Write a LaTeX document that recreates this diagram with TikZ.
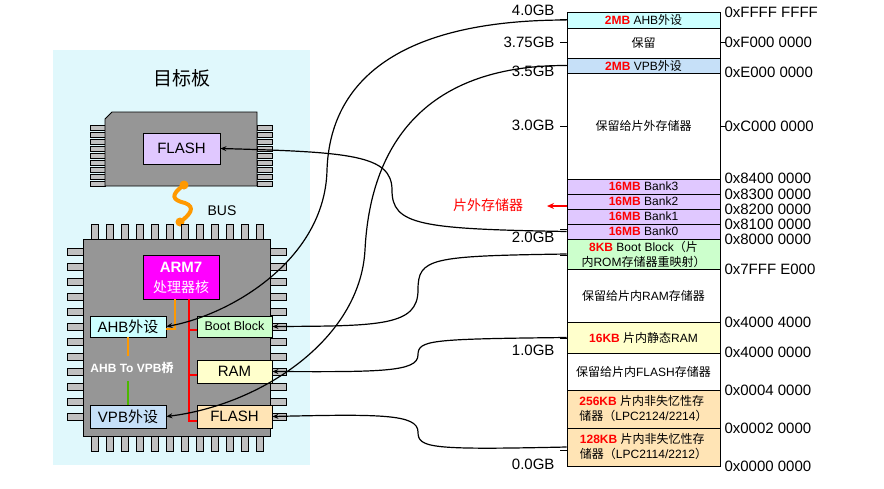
\documentclass[tikz,border=0pt]{standalone}
\usepackage{fontspec}
\setmainfont{Liberation Sans}
\newfontfamily\cjk{Noto Sans CJK SC}
\newcommand{\zh}[1]{{\cjk #1}}
\newcommand{\rd}[1]{\textcolor{red}{\textbf{#1}}}
\usetikzlibrary{arrows.meta}
\definecolor{bgc}{HTML}{E0F8FC}
\definecolor{chip}{HTML}{969696}
\definecolor{pin}{HTML}{C0C0C0}
\definecolor{cyanf}{HTML}{CCFFFF}
\definecolor{bluef}{HTML}{C6E0F8}
\definecolor{purpf}{HTML}{E0C8FF}
\definecolor{greenf}{HTML}{CCFFCC}
\definecolor{yelf}{HTML}{FFFFCC}
\definecolor{orf}{HTML}{FFE4B5}
\definecolor{mag}{HTML}{FF00FF}
\definecolor{orl}{HTML}{FF9900}
\tikzset{
 pinst/.style={fill=pin,draw=black,line width=0.5pt},
 blk/.style={draw=black,line width=0.8pt,inner sep=0pt,font=\fontsize{15}{16}\selectfont},
 row/.style={draw=black,line width=0.8pt,minimum width=153pt,inner sep=0pt,align=center,font=\fontsize{12}{15}\selectfont},
 addr/.style={anchor=west,font=\fontsize{15}{16}\selectfont},
 gb/.style={anchor=east,font=\fontsize{15}{16}\selectfont},
 conn/.style={line width=1.2pt,-{Stealth[length=6pt,width=5pt]}},
}
\begin{document}
\begin{tikzpicture}[x=1pt,y=-1pt]
\useasboundingbox (0,0) rectangle (884,488);
\fill[bgc] (53,50) rectangle (310,465);
\node[font=\fontsize{19}{20}\selectfont] (title) at (182,78) {\zh{目标板}};
% flash chip
\foreach \y in {128,135,...,184}{
 \draw[pinst] (90,\y-2.5) rectangle (105,\y+2.5);
 \draw[pinst] (257,\y-2.5) rectangle (272,\y+2.5);}
\draw[fill=chip,line width=0.8pt] (112,112) -- (257,112) -- (257,186) -- (105,186) -- (105,119) -- cycle;
\node[blk,fill=purpf,minimum width=77pt,minimum height=31pt] (flashx) at (181.5,148.5) {FLASH};
% bus
\draw[orl,line width=4pt,line cap=round] (184,185) .. controls (170,195) and (172,200) .. (185,203) .. controls (196,207) and (190,215) .. (180,222);
\fill[orl] (184,185) circle (4.5) (180,222) circle (4.5);
\node[font=\fontsize{14}{15}\selectfont] (bus) at (222,211) {BUS};
% big chip
\foreach \x in {95,110,...,265}{
 \draw[pinst] (\x-3.5,224) rectangle (\x+3.5,239);
 \draw[pinst] (\x-3.5,436) rectangle (\x+3.5,451);}
\foreach \y in {252,267,...,425}{
 \draw[pinst] (67,\y-3.5) rectangle (83,\y+3.5);
 \draw[pinst] (270,\y-3.5) rectangle (286,\y+3.5);}
\draw[fill=chip,line width=0.8pt] (83,239) rectangle (270,436);
\node[draw=black,line width=0.8pt,fill=mag,minimum width=76pt,minimum height=44pt,inner sep=0pt] (arm) at (181,277) {};
\node[text=white,font=\fontsize{15}{16}\selectfont\bfseries] (armt) at (181,267) {ARM7};
\node[text=white,font=\fontsize{14}{15}\selectfont] (armz) at (181,287) {\zh{处理器核}};
\node[blk,fill=cyanf,minimum width=76pt,minimum height=21pt] (ahbp) at (128,326.5) {AHB\zh{外设}};
\node[blk,fill=bluef,minimum width=76pt,minimum height=23pt] (vpbp) at (128,416.5) {VPB\zh{外设}};
\node[blk,fill=greenf,minimum width=75pt,minimum height=21pt,font=\fontsize{12.5}{13}\selectfont] (bootp) at (234.5,326.5) {Boot Block};
\node[blk,fill=yelf,minimum width=75pt,minimum height=23pt] (ramp) at (234.5,371.5) {RAM};
\node[blk,fill=orf,minimum width=75pt,minimum height=23pt] (flashp) at (234.5,416.5) {FLASH};
\node[text=white,font=\fontsize{12}{13}\selectfont\bfseries] (bridge) at (132,368) {AHB To VPB\zh{桥}};
\draw[orl,line width=2pt] (175,299) |- (ahbp.east |- 0,329);
\draw[orl,line width=2pt] (ahbp.south) -- (128,356);
\draw[green!60!black!70!yellow,line width=2pt] (128,381) -- (vpbp.north);
\draw[red,line width=2.5pt] (189,299) -- (189,421) -- (flashp.west |- 0,421);
\draw[red,line width=2.5pt] (189,330) -- (bootp.west |- 0,330);
\draw[red,line width=2.5pt] (189,375) -- (ramp.west |- 0,375);
% memory map
\node[row,fill=cyanf,minimum height=16pt] (ahbm) at (643.5,20) {\rd{2MB} AHB\zh{外设}};
\node[row,minimum height=30pt] (res1) at (643.5,43) {\zh{保留}};
\node[row,fill=bluef,minimum height=15pt] (vpbm) at (643.5,65.5) {\rd{2MB} VPB\zh{外设}};
\node[row,minimum height=106pt] (ext) at (643.5,126) {\zh{保留给片外存储器}};
\node[row,fill=purpf,minimum height=15pt] (b3) at (643.5,186.5) {\rd{16MB} Bank3};
\node[row,fill=purpf,minimum height=15pt] (b2) at (643.5,201.5) {\rd{16MB} Bank2};
\node[row,fill=purpf,minimum height=15pt] (b1) at (643.5,216.5) {\rd{16MB} Bank1};
\node[row,fill=purpf,minimum height=15pt] (b0) at (643.5,231.5) {\rd{16MB} Bank0};
\node[row,fill=greenf,minimum height=30pt] (bootm) at (643.5,254) {\rd{8KB} Boot Block\zh{（片}\\\zh{内}ROM\zh{存储器重映射）}};
\node[row,minimum height=53pt] (resram) at (643.5,295.5) {\zh{保留给片内}RAM\zh{存储器}};
\node[row,fill=yelf,minimum height=31pt] (ramm) at (643.5,337.5) {\rd{16KB} \zh{片内静态}RAM};
\node[row,minimum height=37pt] (resfl) at (643.5,371.5) {\zh{保留给片内}FLASH\zh{存储器}};
\node[row,fill=orf,minimum height=38pt,align=left] (f256) at (643.5,409) {\rd{256KB} \zh{片内非失忆性存}\\\zh{储器（}LPC2124/2214\zh{）}};
\node[row,fill=orf,minimum height=38pt,align=left] (f128) at (643.5,447) {\rd{128KB} \zh{片内非失忆性存}\\\zh{储器（}LPC2114/2212\zh{）}};
\foreach \y in {19,42,65,126,229,255,338,450} \draw[line width=0.8pt] (560,\y) -- (567,\y);
\foreach \y in {42,126} \draw[line width=0.8pt] (720,\y) -- (726,\y);
\foreach \t/\y in {0xFFFF FFFF/12,0xF000 0000/42,0xE000 0000/72,0xC000 0000/126,0x8400 0000/178,0x8300 0000/194,0x8200 0000/209,0x8100 0000/224,0x8000 0000/239,0x7FFF E000/269,0x4000 4000/322,0x4000 0000/352,0x0004 0000/390,0x0002 0000/428,0x0000 0000/466}
 \node[addr] at (721,\y) {\t};
\foreach \t/\y in {4.0GB/10,3.75GB/42,3.5GB/71,3.0GB/125,2.0GB/237,1.0GB/350,0.0GB/464}
 \node[gb] at (558,\y) {\t};
\node[text=red,font=\fontsize{14}{15}\selectfont] (extlbl) at (488,205) {\zh{片外存储器}};
\coordinate (extsrc) at (567,206);
\coordinate (exttip) at (547,206);
\draw[red,line width=1.2pt,-{Stealth[length=7pt,width=6pt]}] (extsrc) -- (exttip);
% connectors
\draw[conn] (ahbm.west) .. controls (400,20) and (330,80) .. (327,170) .. controls (325,260) and (230,315) .. (ahbp.east);
\draw[conn] (vpbm.west) .. controls (420,65) and (370,150) .. (365,250) .. controls (360,340) and (260,405) .. (vpbp.east);
\draw[conn] (b0.west) .. controls (420,229) and (392,225) .. (392,190) .. controls (392,155) and (350,152) .. (flashx.east);
\draw[conn] (bootm.west) .. controls (430,256) and (418,258) .. (418,290) .. controls (418,326) and (380,326) .. (bootp.east);
\draw[conn] (ramm.west) .. controls (430,339) and (418,340) .. (418,355) .. controls (418,372) and (380,372) .. (ramp.east);
\draw[conn] (f128.west) .. controls (430,450) and (418,448) .. (418,432) .. controls (418,414) and (380,414) .. (flashp.east);
\end{tikzpicture}
\end{document}
